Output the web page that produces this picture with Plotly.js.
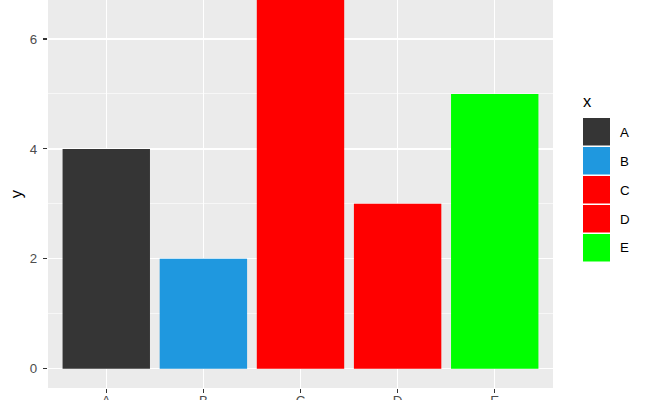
<!DOCTYPE html>
<html>
<head>
<meta charset="utf-8">
<script src="https://cdn.plot.ly/plotly-3.0.1.min.js"></script>
<style>html,body{margin:0;padding:0;background:#fff;}#chart{width:650px;height:400px;}</style>
</head>
<body>
<div id="chart"></div>
<script>
const categories = ['A', 'B', 'C', 'D', 'E'];
const values = [4, 2, 7, 3, 5];
const barColors = ['#353535', '#1f98df', '#ff0000', '#ff0000', '#00ff00'];
const yTicks = [0, 2, 4, 6];
const legendTitle = 'x';
const yTitle = 'y';

const W = 650, H = 400;
const M = {l: 48, r: 97, t: 0, b: 12};
const pw = W - M.l - M.r, ph = H - M.t - M.b;
const px2x = p => (p - M.l) / pw;
const px2y = p => (H - M.b - p) / ph;
const FONT = 'Liberation Sans, Arial, sans-serif';

const trace = {
  type: 'bar',
  x: categories,
  y: values,
  marker: {color: barColors, line: {width: 0}},
  width: 0.9,
  showlegend: false,
  hoverinfo: 'x+y'
};

const shapes = [];
const annotations = [];
annotations.push({
  xref: 'paper', yref: 'paper', x: px2x(581), y: px2y(101),
  xanchor: 'left', yanchor: 'middle', showarrow: false,
  text: legendTitle, font: {family: FONT, size: 16.5, color: '#000'}
});
categories.forEach((c, i) => {
  const top = 118 + i * 29;
  shapes.push({
    type: 'rect', xref: 'paper', yref: 'paper', layer: 'above',
    x0: px2x(583), x1: px2x(610), y0: px2y(top + 27.5), y1: px2y(top),
    fillcolor: barColors[i], line: {width: 0}
  });
  annotations.push({
    xref: 'paper', yref: 'paper', x: px2x(618), y: px2y(top + 14),
    xanchor: 'left', yanchor: 'middle', showarrow: false,
    text: c, font: {family: FONT, size: 13.3, color: '#000'}
  });
});

const layout = {
  width: W, height: H,
  margin: M,
  paper_bgcolor: '#ffffff',
  plot_bgcolor: '#ebebeb',
  font: {family: FONT},
  bargap: 0.1,
  showlegend: false,
  xaxis: {
    type: 'category',
    range: [-0.6, 4.6],
    showgrid: true, gridcolor: '#ffffff', gridwidth: 1.2,
    zeroline: false, showline: false,
    ticks: 'outside', ticklen: 4.2, tickwidth: 1.1, tickcolor: '#333333',
    ticklabelstandoff: -4,
    tickfont: {size: 13.3, color: '#4d4d4d'}
  },
  yaxis: {
    range: [-0.35, 6.709],
    tickvals: yTicks,
    ticktext: yTicks.map(String),
    showgrid: true, gridcolor: '#ffffff', gridwidth: 1.2,
    minor: {dtick: 1, tick0: 0, showgrid: true, gridcolor: '#ffffff', gridwidth: 0.6, ticks: ''},
    zeroline: false, showline: false,
    ticks: 'outside', ticklen: 4.2, tickwidth: 1.1, tickcolor: '#333333',
    ticklabelstandoff: 3,
    tickfont: {size: 13.3, color: '#4d4d4d'},
    title: {text: yTitle, font: {size: 16.5, color: '#000'}, standoff: 2}
  },
  shapes: shapes,
  annotations: annotations
};

Plotly.newPlot('chart', [trace], layout, {displayModeBar: false, staticPlot: true});
</script>
</body>
</html>
